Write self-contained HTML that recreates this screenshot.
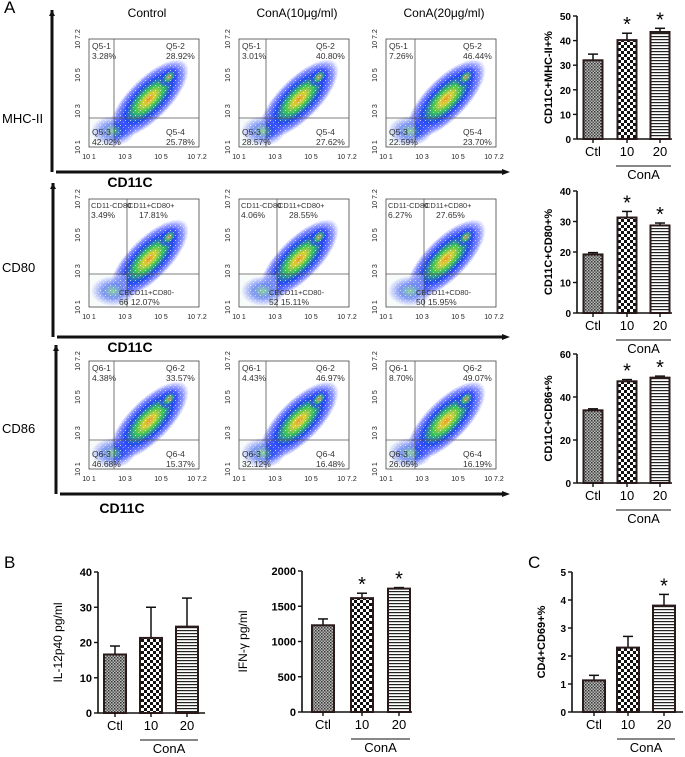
<!DOCTYPE html>
<html><head><meta charset="utf-8">
<style>
html,body{margin:0;padding:0;background:#fff;}
svg{display:block;font-family:"Liberation Sans",Arial,sans-serif;}
</style></head>
<body>
<svg id="fig" width="685" height="757" viewBox="0 0 685 757">
<defs>
<pattern id="pCtl" width="3" height="3" patternUnits="userSpaceOnUse"><rect width="3" height="3" fill="#bbb"/><rect width="1.5" height="1.5" fill="#333"/><rect x="1.5" y="1.5" width="1.5" height="1.5" fill="#555"/></pattern>
<pattern id="p10" width="6" height="6" patternUnits="userSpaceOnUse"><rect width="6" height="6" fill="#fff"/><rect width="3" height="3" fill="#111"/><rect x="3" y="3" width="3" height="3" fill="#111"/></pattern>
<pattern id="p20" width="4" height="3" patternUnits="userSpaceOnUse"><rect width="4" height="3" fill="#fff"/><rect width="4" height="1.2" fill="#222"/></pattern>
<pattern id="speck" width="5" height="5" patternUnits="userSpaceOnUse"><rect x="0" y="0" width="1" height="1" fill="#fff" opacity="0.7"/><rect x="3" y="2" width="1" height="1" fill="#fff" opacity="0.5"/></pattern>
<radialGradient id="cloud" cx="0.5" cy="0.5" r="0.5">
<stop offset="0" stop-color="#e89020"/><stop offset="0.15" stop-color="#d8d030"/><stop offset="0.35" stop-color="#30c050"/><stop offset="0.6" stop-color="#1840f0"/><stop offset="0.85" stop-color="#2030ff" stop-opacity="0.55"/><stop offset="1" stop-color="#2030ff" stop-opacity="0"/></radialGradient>
<radialGradient id="cloud2" cx="0.5" cy="0.5" r="0.5">
<stop offset="0" stop-color="#50c070"/><stop offset="0.45" stop-color="#1840f0" stop-opacity="0.85"/><stop offset="1" stop-color="#2030ff" stop-opacity="0"/></radialGradient>
</defs>
<g id="root"></g>
</svg>
<script>
// ---------- Bar chart data ----------
const barCats = ["Ctl","10","20"];
const mhcVals = [32, 40.2, 43.5];
const mhcErr = [2.5, 2.8, 1.5];
const mhcStar = [false,true,true];
const mhcTicks = [0,10,20,30,40,50];
const cd80Vals = [19.2, 31.3, 28.7];
const cd80Err = [0.6, 2.0, 0.8];
const cd80Star = [false,true,true];
const cd80Ticks = [0,10,20,30,40];
const cd86Vals = [33.8, 47.3, 49.0];
const cd86Err = [0.7, 0.8, 0.7];
const cd86Star = [false,true,true];
const cd86Ticks = [0,20,40,60];
const il12Vals = [16.6, 21.3, 24.5];
const il12Err = [2.4, 8.7, 8.1];
const il12Star = [false,false,false];
const il12Ticks = [0,10,20,30,40];
const ifnVals = [1230, 1615, 1750];
const ifnErr = [90, 70, 15];
const ifnStar = [false,true,true];
const ifnTicks = [0,500,1000,1500,2000];
const cd69Vals = [1.13, 2.3, 3.8];
const cd69Err = [0.18, 0.4, 0.4];
const cd69Star = [false,false,true];
const cd69Ticks = [0,1,2,3,4,5];
// flow gate labels
const flowCols = ["Control","ConA(10μg/ml)","ConA(20μg/ml)"];
const q1 = [["3.28%","3.01%","7.26%"],["3.49%","4.06%","6.27%"],["4.38%","4.43%","8.70%"]];
const q2 = [["28.92%","40.80%","46.44%"],["17.81%","28.55%","27.65%"],["33.57%","46.97%","49.07%"]];
const q3 = [["42.02%","28.57%","22.59%"],["66 12.07%","52 15.11%","50 15.95%"],["46.68%","32.12%","26.05%"]];
const q4 = [["25.78%","27.62%","23.70%"],["","",""],["15.37%","16.48%","16.19%"]];

const NS="http://www.w3.org/2000/svg";
const root=document.getElementById('root');
function mk(tag,attrs,parent,txt){const e=document.createElementNS(NS,tag);for(const k in attrs)e.setAttribute(k,attrs[k]);if(txt!==undefined)e.textContent=txt;(parent||root).appendChild(e);return e;}

function barChart(name,o,vals,errs,stars,ticks,title){
  const g=mk('g',{});
  
  
  const max=ticks[ticks.length-1];
  const y=v=>o.y0-(v/max)*(o.y0-o.yTop);
  const ax=mk('line',{x1:o.ax,y1:o.yTop,x2:o.ax,y2:o.y0,stroke:'#111','stroke-width':1.6},g);
  
  
  const xa=mk('line',{x1:o.ax,y1:o.y0,x2:o.xEnd,y2:o.y0,stroke:'#111','stroke-width':1.6},g);
  
  
  ticks.forEach(t=>{
    mk('line',{x1:o.ax-4,y1:y(t),x2:o.ax,y2:y(t),stroke:'#111','stroke-width':1.4},g);
    const tl=mk('text',{x:o.ax-6,y:y(t)+4,'text-anchor':'end','font-size':o.fs||10,'font-weight':'bold'},g,String(t));
    
    
  });
  const pats=['url(#pCtl)','url(#p10)','url(#p20)'];
  vals.forEach((v,i)=>{
    const cx=o.cx[i], w=o.bw;
    const top=y(v);
    mk('line',{x1:cx,y1:y(v+errs[i]),x2:cx,y2:top,stroke:'#111','stroke-width':1.5},g);
    mk('line',{x1:cx-5,y1:y(v+errs[i]),x2:cx+5,y2:y(v+errs[i]),stroke:'#111','stroke-width':1.5},g);
    const r=mk('rect',{x:cx-w/2,y:top,width:w,height:o.y0-top,fill:pats[i],stroke:'#2a1a1a','stroke-width':2},g);
    
    
    mk('line',{x1:cx,y1:o.y0,x2:cx,y2:o.y0+4,stroke:'#111','stroke-width':1.4},g);
    const lab=mk('text',{x:cx,y:o.y0+17,'text-anchor':'middle','font-size':13},g,barCats[i]);
    
    
    if(stars[i]){
      const s=mk('text',{x:cx,y:y(v+errs[i])-2,'text-anchor':'middle','font-size':20},g,'*');
      
      
    }
  });
  mk('line',{x1:o.cx[1]-11,y1:o.y0+27,x2:o.cx[2]+11,y2:o.y0+27,stroke:'#111','stroke-width':1},g);
  const ca=mk('text',{x:(o.cx[1]+o.cx[2])/2,y:o.y0+40,'text-anchor':'middle','font-size':13},g,'ConA');
  
  
  const ty=(o.y0+o.yTop)/2;
  const tt=mk('text',{x:o.tx,y:ty,'text-anchor':'middle','font-size':o.tfs||11,'font-weight':o.tw||'bold',transform:`rotate(-90 ${o.tx} ${ty})`},g,title);
  
  
}

barChart('chart-mhc',{ax:577,xEnd:672,y0:139,yTop:16,cx:[593,627,660],bw:19,tx:552},mhcVals,mhcErr,mhcStar,mhcTicks,'CD11C+MHC-II+%');
barChart('chart-cd80',{ax:577,xEnd:672,y0:313,yTop:191,cx:[593,627,660],bw:19,tx:552},cd80Vals,cd80Err,cd80Star,cd80Ticks,'CD11C+CD80+%');
barChart('chart-cd86',{ax:577,xEnd:672,y0:483,yTop:354,cx:[593,627,660],bw:19,tx:552},cd86Vals,cd86Err,cd86Star,cd86Ticks,'CD11C+CD86+%');
barChart('chart-il12',{ax:98,xEnd:205,y0:713,yTop:572,cx:[115,151,187],bw:22,tx:62,fs:11,tfs:12,tw:'normal'},il12Vals,il12Err,il12Star,il12Ticks,'IL-12p40 pg/ml');
barChart('chart-ifn',{ax:302,xEnd:412,y0:712,yTop:571,cx:[323,362,399],bw:22,tx:247,fs:11,tfs:12,tw:'normal'},ifnVals,ifnErr,ifnStar,ifnTicks,'IFN-γ pg/ml');
barChart('chart-cd69',{ax:572,xEnd:683,y0:712,yTop:572,cx:[594,628,664],bw:22,tx:545,fs:10,tfs:11},cd69Vals,cd69Err,cd69Star,cd69Ticks,'CD4+CD69+%');

[['A',4,13],['B',4,568],['C',528,568]].forEach(p=>{
  const t=mk('text',{x:p[1],y:p[2],'font-size':17},root,p[0]);
  
  
});

const rows=[{by:39,vx:52,vt:10,hy:172,cdy:187,lab:'MHC-II',ly:123,cdx:130},
            {by:199,vx:53,vt:183,hy:337,cdy:352,lab:'CD80',ly:272,cdx:130},
            {by:361,vx:56,vt:345,hy:494,cdy:513,lab:'CD86',ly:433,cdx:122}];
const colX=[89,239,386];
rows.forEach((r,ri)=>{
  mk('line',{x1:r.vx,y1:r.vt,x2:r.vx,y2:r.hy,stroke:'#111','stroke-width':3});
  mk('path',{d:`M${r.vx-3},${r.vt+6} L${r.vx},${r.vt} L${r.vx+3},${r.vt+6}Z`,fill:'#111'});
  mk('line',{x1:r.vx+4,y1:r.hy,x2:505,y2:r.hy,stroke:'#111','stroke-width':3});
  mk('path',{d:`M502,${r.hy-3} L510,${r.hy} L502,${r.hy+3}Z`,fill:'#111'});
  const l=mk('text',{x:2,y:r.ly,'font-size':13},root,r.lab);
  
  
  const c=mk('text',{x:r.cdx,y:r.cdy,'text-anchor':'middle','font-size':14,'font-weight':'bold'},root,'CD11C');
  
  
  colX.forEach((bx,ci)=>{
    const g=mk('g',{});
    
    
    const by=r.by,W=110,H=108;
    const gx=ri===1?bx+38:bx+25+ci*2, gy=ri===1?by+75:by+79;
    const cg=mk('g',{opacity:0.95},g);
    mk('ellipse',{cx:bx+60,cy:by+60,rx:52,ry:21,fill:'url(#cloud)',transform:`rotate(-45 ${bx+60} ${by+60})`},cg);
    mk('ellipse',{cx:bx+80,cy:by+38,rx:12,ry:8,fill:'url(#cloud)',transform:`rotate(-45 ${bx+80} ${by+38})`,opacity:0.7},cg);
    mk('ellipse',{cx:bx+24,cy:by+92,rx:22,ry:15,fill:'url(#cloud2)'},cg);
    mk('rect',{x:bx,y:by,width:W,height:H,fill:'url(#speck)'},g);
    mk('rect',{x:bx+1,y:gy+1,width:gx-bx-1,height:by+H-gy-2,fill:'#e8f4f0',opacity:0.35},g);
    mk('rect',{x:bx,y:by,width:W,height:H,fill:'none',stroke:'#444','stroke-width':0.8},g);
    mk('line',{x1:gx,y1:by,x2:gx,y2:by+H,stroke:'#555','stroke-width':0.8},g);
    mk('line',{x1:bx,y1:gy,x2:bx+W,y2:gy,stroke:'#555','stroke-width':0.8},g);
    const xl=['10 1','10 3','10 5','10 7.2'];
    [0,36,72,108].forEach((d,k)=>{
      const t=mk('text',{x:bx+d,y:by+H+12,'text-anchor':'middle','font-size':7,fill:'#222'},g,xl[k]);
      
      
      const yy=by+H-d*H/108;
      const t2=mk('text',{x:bx-9,y:yy,'text-anchor':'middle','font-size':7,fill:'#222',transform:`rotate(-90 ${bx-9} ${yy})`},g,xl[k]);
      
      
    });
    const fs=8.5, col='#333';
    const pre=ri===0?'Q5-':ri===2?'Q6-':'';
    if(ri===1){
      mk('text',{x:bx+2,y:by+9,'font-size':7.5,fill:col},g,'CD11-CD80');
      mk('text',{x:gx+1,y:by+9,'font-size':7.5,fill:col},g,'CD11+CD80+');
      mk('text',{x:bx+2,y:by+19,'font-size':fs,fill:col},g,q1[ri][ci]);
      mk('text',{x:gx+12,y:by+19,'font-size':fs,fill:col},g,q2[ri][ci]);
      mk('text',{x:gx-8,y:by+H-12,'font-size':7.5,fill:col},g,'CECD11+CD80-');
      mk('text',{x:gx-8,y:by+H-2,'font-size':fs,fill:col},g,q3[ri][ci]);
    } else {
      mk('text',{x:bx+3,y:by+10,'font-size':fs,fill:col},g,pre+'1');
      mk('text',{x:bx+3,y:by+20,'font-size':fs,fill:col},g,q1[ri][ci]);
      mk('text',{x:bx+77,y:by+10,'font-size':fs,fill:col},g,pre+'2');
      mk('text',{x:bx+77,y:by+20,'font-size':fs,fill:col},g,q2[ri][ci]);
      mk('text',{x:bx+3,y:by+H-12,'font-size':fs,fill:col},g,pre+'3');
      mk('text',{x:bx+3,y:by+H-2,'font-size':fs,fill:col},g,q3[ri][ci]);
      mk('text',{x:bx+77,y:by+H-12,'font-size':fs,fill:col},g,pre+'4');
      mk('text',{x:bx+77,y:by+H-2,'font-size':fs,fill:col},g,q4[ri][ci]);
    }
  });
});
flowCols.forEach((t,i)=>{
  const e=mk('text',{x:colX[i]+58,y:17,'text-anchor':'middle','font-size':12},root,t);
  
  
});
</script>
</body></html>
